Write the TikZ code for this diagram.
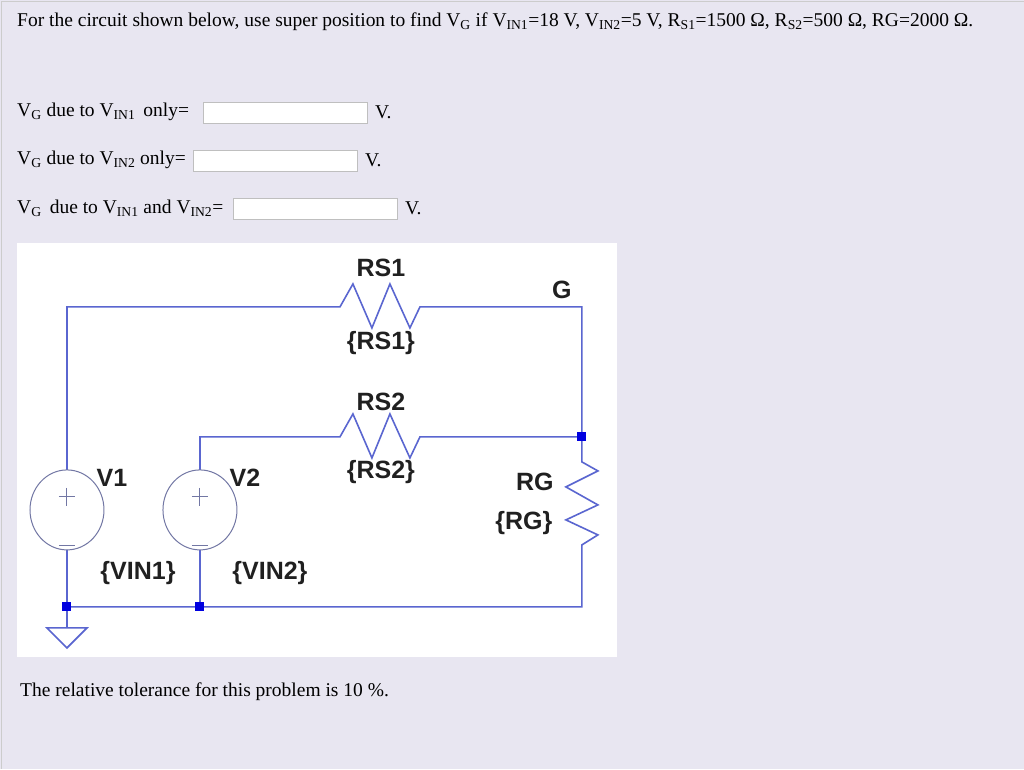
\documentclass[tikz,border=0pt]{standalone}
\usepackage{fontspec}
\setmainfont{Liberation Serif}
\newfontfamily\arial{Liberation Sans}
\definecolor{bg}{HTML}{E8E6F1}
\definecolor{wire}{HTML}{5A66D0}
\definecolor{dot}{HTML}{0000E0}
\definecolor{lbl}{HTML}{202020}
\begin{document}
\begin{tikzpicture}[x=1pt,y=-1pt,
  txt/.style={anchor=west,inner sep=0pt,font=\fontsize{19.5}{22}\selectfont},
  box/.style={draw=black!25,fill=white},
  w/.style={draw=wire,line width=1.6pt},
  lab/.style={font=\arial\bfseries\fontsize{25}{27}\selectfont,text=lbl,inner sep=0pt},
  jn/.style={fill=dot,minimum size=9pt,inner sep=0pt}]
\fill[bg] (0,0) rectangle (1024,769);
\draw[black!20] (1,769) -- (1,1) -- (1024,1);
\node[txt] (q) at (17,22) {For the circuit shown below, use super position to find V\textsubscript{G} if V\textsubscript{IN1}=18 V, V\textsubscript{IN2}=5 V, R\textsubscript{S1}=1500 Ω, R\textsubscript{S2}=500 Ω, RG=2000 Ω.};
\node[txt] (l1) at (17,112) {V\textsubscript{G} due to V\textsubscript{IN1}\ \,only=};
\draw[box] (203,102) rectangle (367,123);
\node[txt] (v1) at (375,112) {V.};
\node[txt] (l2) at (17,160) {V\textsubscript{G} due to V\textsubscript{IN2} only=};
\draw[box] (193,150) rectangle (357,171);
\node[txt] (v2) at (365,160) {V.};
\node[txt] (l3) at (17,208) {V\textsubscript{G}\ \,due to V\textsubscript{IN1} and V\textsubscript{IN2}=};
\draw[box] (233,198) rectangle (397,219);
\node[txt] (v3) at (405,208) {V.};
\node[txt] (tol) at (20,692) {The relative tolerance for this problem is 10 \%.};
% circuit panel
\fill[white] (17,243) rectangle (617,657);
% wires
\draw[w] (67,470) -- (67,307) -- (340,307) -- (353,284) -- (372,328) -- (390,284) -- (410,328) -- (420,307) -- (582,307) -- (582,437);
\draw[w] (200,470) -- (200,437) -- (340,437) -- (353,414) -- (372,458) -- (390,414) -- (410,458) -- (420,437) -- (582,437) -- (582,462) -- (598,471) -- (566,487) -- (598,505) -- (566,520) -- (598,535) -- (582,545) -- (582,607) -- (67,607) -- (67,550);
\draw[w] (200,550) -- (200,607);
\draw[w] (67,607) -- (67,628);
\draw[w] (47,628) -- (87,628) -- (67,648) -- cycle;
% sources
\foreach \x/\n in {67/s1,200/s2}{
  \draw[wire!60!black!70,line width=1pt] (\x,510) ellipse (37pt and 40pt);
  \draw[wire!60!black!70,line width=1pt] (\x-8,497) -- (\x+8,497) (\x,488) -- (\x,506) (\x-8,546) -- (\x+8,546);
}
\node[jn] (j1) at (67,607) {};
\node[jn] (j2) at (200,607) {};
\node[jn] (j3) at (582,437) {};
% labels
\node[lab] (t1) at (381,268) {RS1};
\node[lab] (t2) at (381,343) {\{RS1\}};
\node[lab] (t3) at (381,402) {RS2};
\node[lab] (t4) at (381,472) {\{RS2\}};
\node[lab] (t5) at (562,290) {G};
\node[lab] (t6) at (535,482) {RG};
\node[lab] (t7) at (524,523) {\{RG\}};
\node[lab] (t8) at (112,478) {V1};
\node[lab] (t9) at (245,478) {V2};
\node[lab] (t10) at (138,573) {\{VIN1\}};
\node[lab] (t11) at (270,573) {\{VIN2\}};
\end{tikzpicture}
\end{document}
